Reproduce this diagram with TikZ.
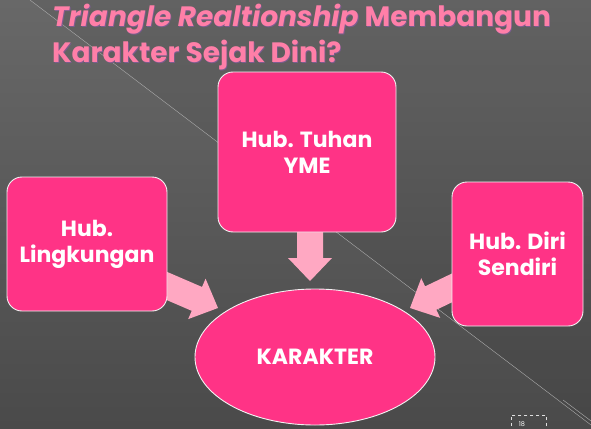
\documentclass[tikz,border=0pt]{standalone}
\usepackage{fontspec}
\setmainfont{Poppins}
\usetikzlibrary{calc,shapes.geometric}
\definecolor{boxpink}{HTML}{FF3386}
\definecolor{arrowpink}{HTML}{FFA8C2}
\definecolor{titlepink}{HTML}{FF7FA8}
\definecolor{titleshadow}{HTML}{7A5C8E}
\definecolor{bgtop}{HTML}{4A4A4A}
\definecolor{bgbot}{HTML}{686868}
\tikzset{
  box/.style={draw=white!90!gray, line width=0.9pt, fill=boxpink, rounded corners=15pt,
    text=white, align=center, inner sep=0pt,
    font=\fontsize{22}{26}\selectfont\bfseries},
  oval/.style={ellipse, draw=white!90!gray, line width=0.9pt, fill=boxpink, text=white,
    inner sep=0pt, font=\fontsize{22}{26}\selectfont\bfseries},
  blk/.style={fill=arrowpink},
  titletext/.style={anchor=base west, inner sep=0pt, font=\fontsize{28}{32}\selectfont\bfseries},
}
\newcommand\blkarrow[2]{%
  \coordinate (hb) at ($(#2)!23pt!(#1)$);
  \fill[blk] ($(#1)!13pt!90:(#2)$) -- ($(hb)!13pt!90:(#2)$) -- ($(hb)!22pt!90:(#2)$) -- (#2)
    -- ($(hb)!22pt!-90:(#2)$) -- ($(hb)!13pt!-90:(#2)$) -- ($(#1)!13pt!-90:(#2)$) -- cycle;}
\begin{document}
\begin{tikzpicture}[x=1pt,y=-1pt]
\useasboundingbox (0,0) rectangle (591,428);
% background
\fill[top color=bgbot, bottom color=bgtop] (0,0) rectangle (591,428);
\fill[black, opacity=0.05] (30,0) -- (591,0) -- (591,425) -- cycle;
\draw[gray!65, line width=0.4pt] (30,0) -- (591,425);
\draw[gray!60, line width=0.4pt] (563,400) -- (591,421);
% title
\foreach \dx/\dy/\col in {0.8/0.8/titleshadow, 0/0/titlepink} {
  \node[titletext, text=\col] at (52+\dx,27+\dy) {\textit{Triangle Realtionship} Membangun};
  \node[titletext, text=\col] at (52+\dx,63+\dy) {Karakter Sejak Dini?};
}
% arrow ends
\coordinate (s1) at (310,228);
\coordinate (t1) at (310,281);
\coordinate (s2) at (160,283);
\coordinate (t2) at (218,308);
\coordinate (s3) at (458,285);
\coordinate (t3) at (410,308);
\blkarrow{s1}{t1}
\blkarrow{s2}{t2}
\blkarrow{s3}{t3}
% nodes
\node[box, minimum width=178pt, minimum height=160pt] (tuhan) at (307,152) {Hub. Tuhan\\YME};
\node[box, minimum width=160pt, minimum height=134pt] (lingk) at (87,244) {Hub.\\Lingkungan};
\node[box, minimum width=131pt, minimum height=144pt] (diri) at (517.5,254) {Hub. Diri\\Sendiri};
\node[oval, minimum width=240pt, minimum height=136pt] (kar) at (315,357) {KARAKTER};
% page number
\node[draw=white!75!gray, dashed, line width=0.5pt, minimum width=35pt, minimum height=24pt, anchor=north west] (pg) at (511,415) {};
\node[text=white, font=\fontsize{6.5}{8}\selectfont, anchor=base] (pgn) at (522,426) {18};
\end{tikzpicture}
\end{document}
